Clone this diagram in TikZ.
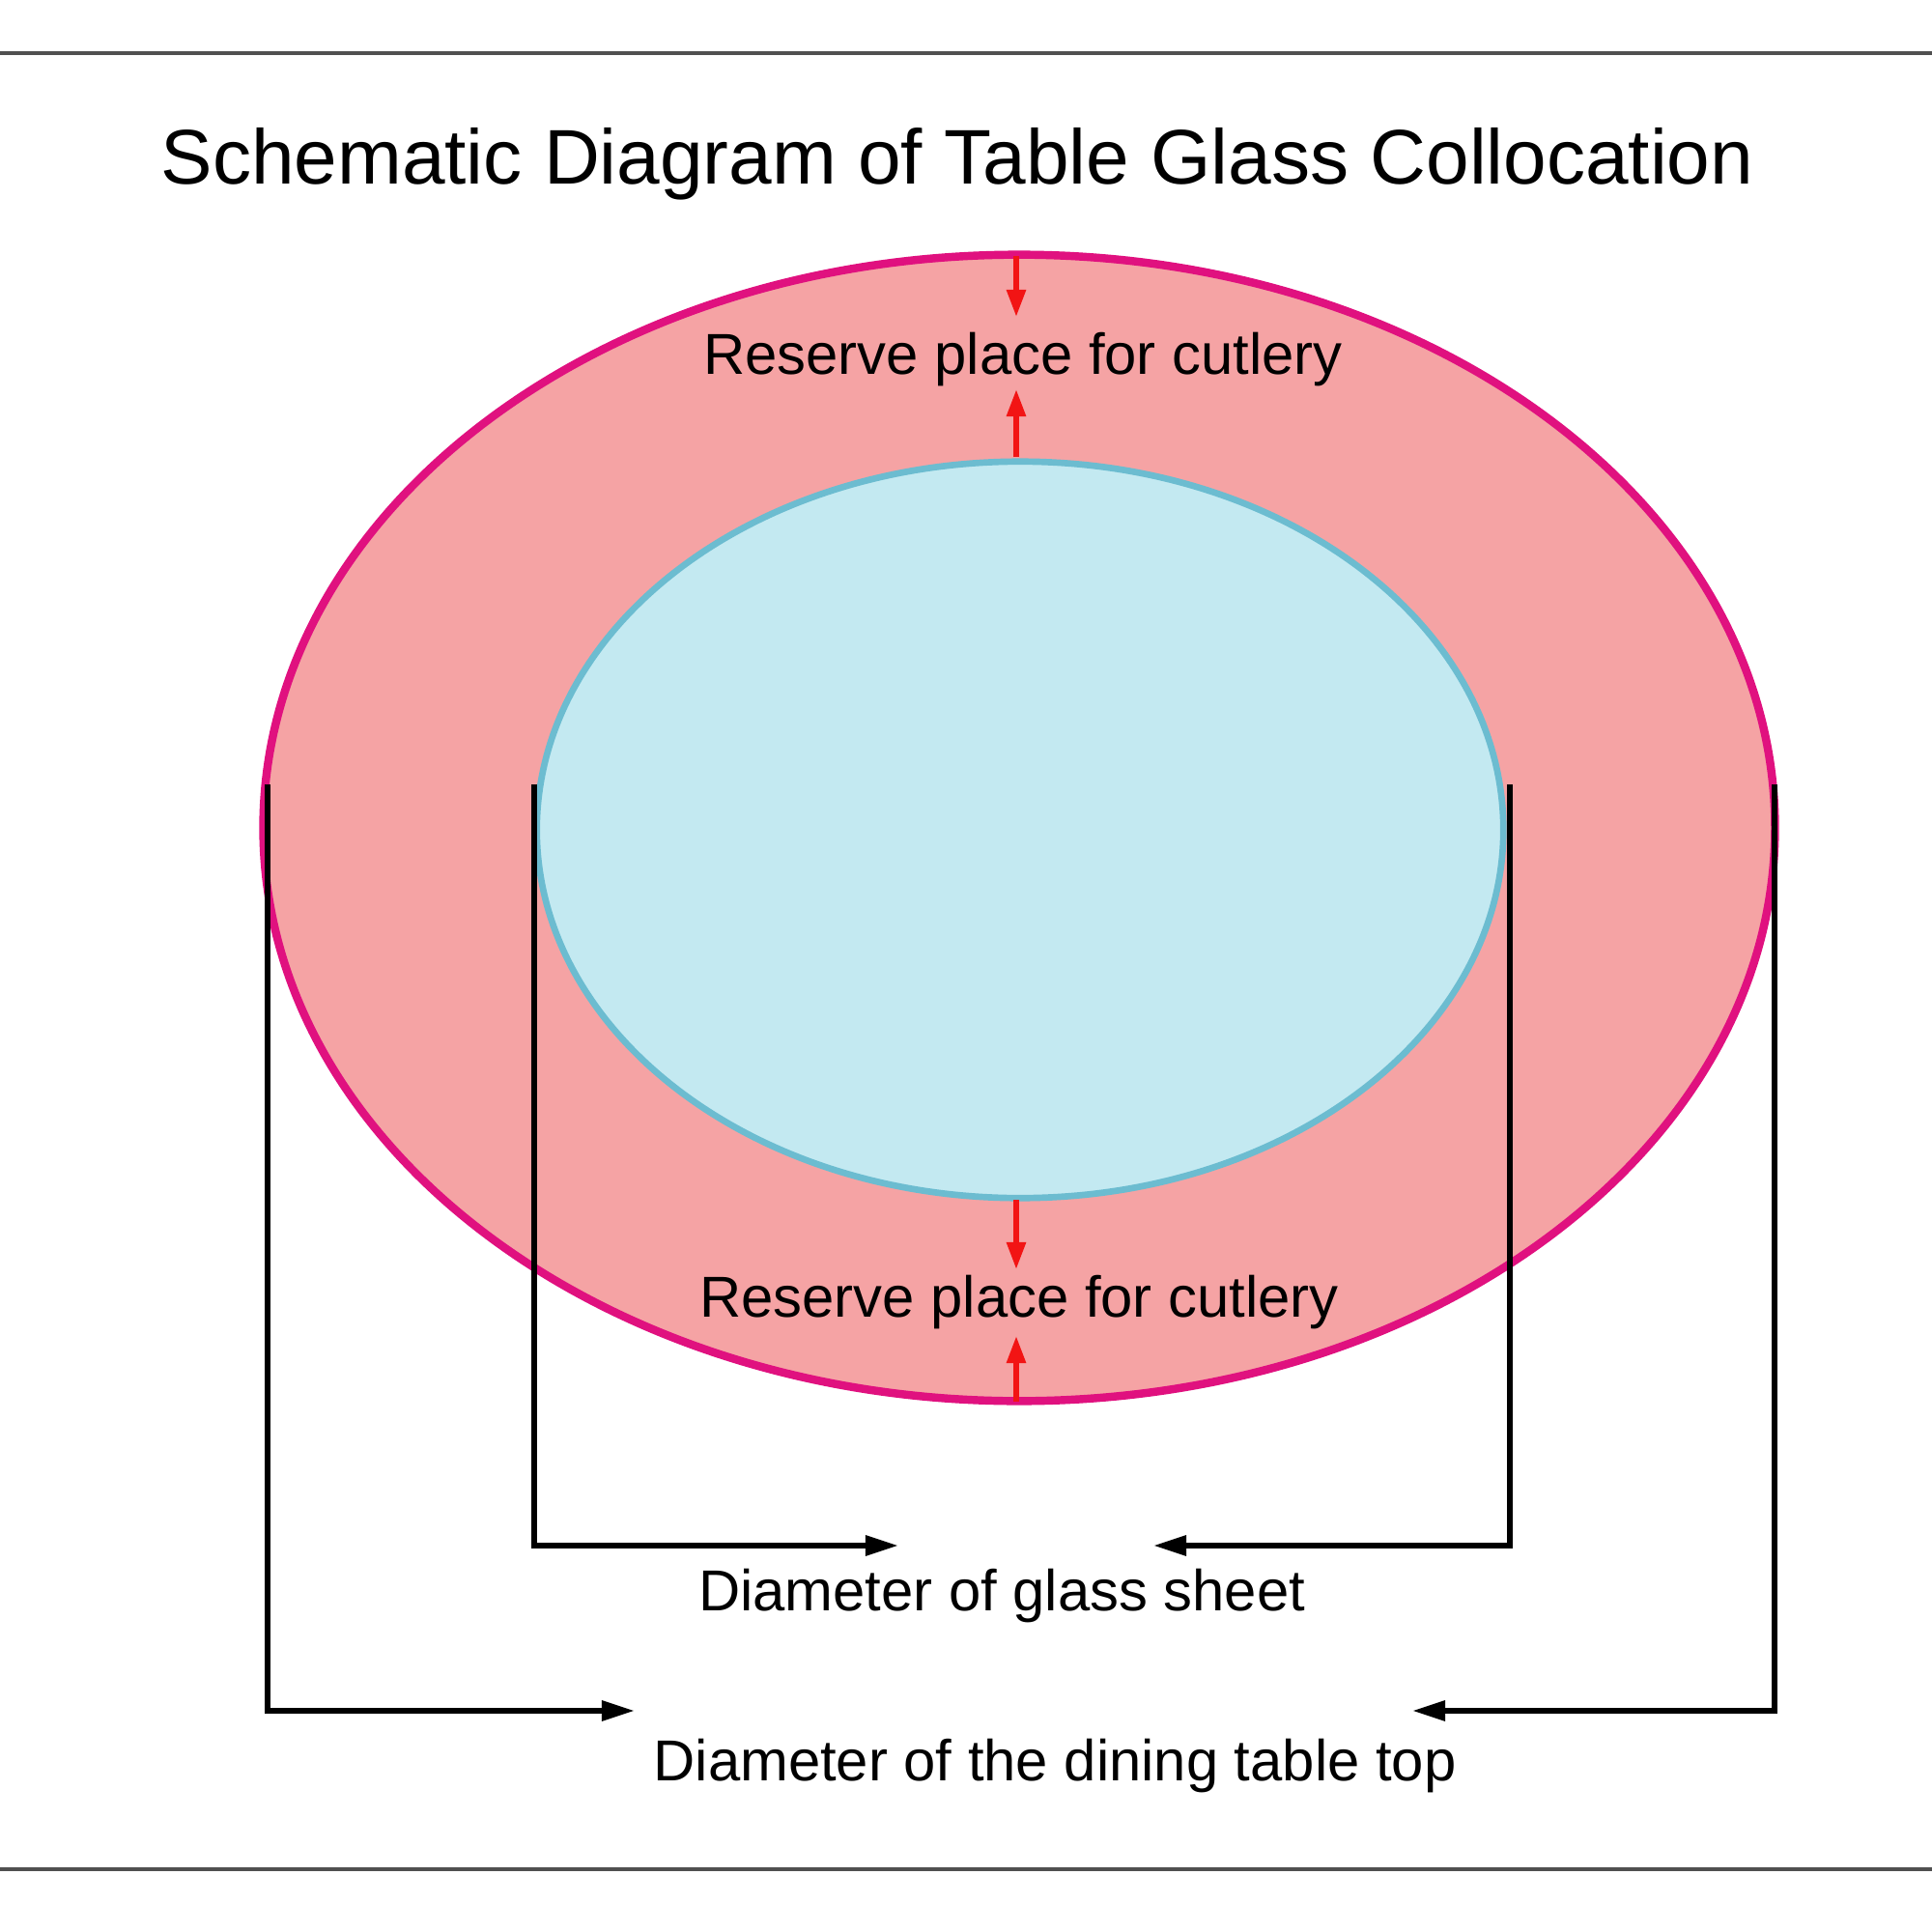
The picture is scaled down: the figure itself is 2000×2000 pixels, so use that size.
\documentclass[tikz,border=0pt]{standalone}
\usepackage{fontspec}
\setmainfont{Liberation Sans}
\usetikzlibrary{arrows.meta,shapes.geometric}
\definecolor{rimline}{HTML}{E0117F}
\definecolor{rimfill}{HTML}{F5A3A4}
\definecolor{glassline}{HTML}{6CBCD0}
\definecolor{glassfill}{HTML}{C3E9F1}
\definecolor{redarrow}{HTML}{F21414}
\definecolor{ruleline}{HTML}{505050}
\tikzset{
  rule/.style={ruleline, line width=1.1pt},
  dimline/.style={black, line width=1.7pt, -{Triangle[length=0.34cm,width=0.2cm]}},
  gaparrow/.style={redarrow, line width=1.6pt, -{Triangle[length=0.28cm,width=0.19cm]}},
  label/.style={inner sep=0pt, anchor=base, font=\fontsize{17pt}{20pt}\selectfont},
  titletext/.style={inner sep=0pt, anchor=base, font=\fontsize{22.8pt}{26pt}\selectfont},
}
\begin{document}
\begin{tikzpicture}[x=0.01cm,y=-0.01cm]
\useasboundingbox (0,0) rectangle (2000,2000);
\fill[white] (0,0) rectangle (2000,2000);
% rules
\coordinate (r1a) at (0,55); \coordinate (r1b) at (2000,55);
\coordinate (r2a) at (0,1935); \coordinate (r2b) at (2000,1935);
\draw[rule] (r1a) -- (r1b);
\draw[rule] (r2a) -- (r2b);
% title
\node[titletext] (title) at (991,190) {Schematic Diagram of Table Glass Collocation};
% ellipses
\node[ellipse, draw=rimline, fill=rimfill, line width=2.4pt, inner sep=0pt,
      minimum width=15.64cm, minimum height=11.86cm] (outer) at (1055,857) {};
\node[ellipse, draw=glassline, fill=glassfill, line width=1.9pt, inner sep=0pt,
      minimum width=10.0cm, minimum height=7.62cm] (inner) at (1056,859) {};
% red gap arrows
\coordinate (t1a) at (1052,265); \coordinate (t1b) at (1052,328);
\coordinate (t2a) at (1052,473); \coordinate (t2b) at (1052,403);
\coordinate (b1a) at (1052,1242); \coordinate (b1b) at (1052,1314);
\coordinate (b2a) at (1052,1451); \coordinate (b2b) at (1052,1383);
\draw[gaparrow] (t1a) -- (t1b);
\draw[gaparrow] (t2a) -- (t2b);
\draw[gaparrow] (b1a) -- (b1b);
\draw[gaparrow] (b2a) -- (b2b);
\node[label] (cut1) at (1059,387) {Reserve place for cutlery};
\node[label] (cut2) at (1055,1363) {Reserve place for cutlery};
% glass diameter
\coordinate (gl0) at (553,812); \coordinate (gl1) at (553,1600); \coordinate (gl2) at (930,1600);
\coordinate (gr0) at (1563,812); \coordinate (gr1) at (1563,1600); \coordinate (gr2) at (1194,1600);
\draw[dimline] (gl0) -- (gl1) -- (gl2);
\draw[dimline] (gr0) -- (gr1) -- (gr2);
\node[label] (glass) at (1037,1667) {Diameter of glass sheet};
% table diameter
\coordinate (tl0) at (277,812); \coordinate (tl1) at (277,1771); \coordinate (tl2) at (657,1771);
\coordinate (tr0) at (1837,812); \coordinate (tr1) at (1837,1771); \coordinate (tr2) at (1462,1771);
\draw[dimline] (tl0) -- (tl1) -- (tl2);
\draw[dimline] (tr0) -- (tr1) -- (tr2);
\node[label] (table) at (1092,1843) {Diameter of the dining table top};
\end{tikzpicture}
\end{document}
